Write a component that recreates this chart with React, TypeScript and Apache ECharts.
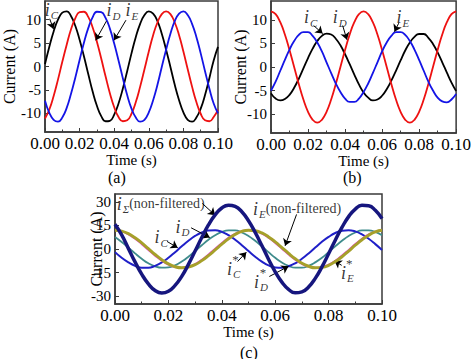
import React, { useEffect, useRef } from "react";
import * as echarts from "echarts";

// ---------- data (every 2.5 ms) ----------
const TIME = [
  0, 0.0025, 0.005, 0.0075, 0.01, 0.0125, 0.015, 0.0175, 0.02, 0.0225,
  0.025, 0.0275, 0.03, 0.0325, 0.035, 0.0375, 0.04, 0.0425, 0.045, 0.0475,
  0.05, 0.0525, 0.055, 0.0575, 0.06, 0.0625, 0.065, 0.0675, 0.07, 0.0725,
  0.075, 0.0775, 0.08, 0.0825, 0.085, 0.0875, 0.09, 0.0925, 0.095, 0.0975, 0.1,
];

// panel (a)
const A_IC = [0.5, 4.2, 7.5, 10.0, 11.5, 11.8, 10.8, 8.7, 5.7, 2.2, -1.6, -5.3, -8.4, -10.6, -11.7, -11.6, -10.3, -7.9, -4.7, -1.0, 2.8, 6.3, 9.1, 11.0, 11.8, 11.3, 9.7, 7.0, 3.6, -0.1, -3.9, -7.2, -9.8, -11.4, -11.8, -10.9, -9.0, -6.1, -2.5, 1.3, 4.2];
const A_ID = [-11.1, -9.2, -6.3, -2.8, 1.0, 4.6, 7.9, 10.3, 11.6, 11.7, 10.6, 8.4, 5.3, 1.7, -2.1, -5.7, -8.7, -10.8, -11.7, -11.5, -10.1, -7.6, -4.3, -0.6, 3.2, 6.7, 9.4, 11.2, 11.8, 11.2, 9.4, 6.7, 3.2, -0.6, -4.3, -7.6, -10.1, -11.5, -11.7, -10.8, -9.2];
const A_IE = [-7.3, -9.9, -11.4, -11.8, -10.9, -8.9, -5.9, -2.4, 1.4, 5.1, 8.2, 10.5, 11.7, 11.6, 10.4, 8.1, 4.9, 1.3, -2.5, -6.1, -9.0, -10.9, -11.8, -11.4, -9.8, -7.2, -3.9, -0.1, 3.6, 7.0, 9.7, 11.3, 11.8, 11.0, 9.1, 6.3, 2.8, -1.0, -4.7, -7.9, -10.0];

// panel (b)
const B_IC = [-5.6, -6.7, -7.1, -6.8, -5.9, -4.4, -2.5, -0.3, 1.9, 3.9, 5.5, 6.6, 7.1, 6.9, 6.0, 4.6, 2.7, 0.6, -1.6, -3.7, -5.4, -6.5, -7.1, -6.9, -6.1, -4.7, -2.9, -0.8, 1.4, 3.5, 5.2, 6.4, 7.0, 7.0, 6.2, 4.9, 3.1, 1.0, -1.2, -3.3, -5.1];
const B_ID = [11.8, 11.2, 9.5, 6.9, 3.6, 0, -3.6, -6.9, -9.5, -11.2, -11.8, -11.2, -9.5, -6.9, -3.6, 0, 3.6, 6.9, 9.5, 11.2, 11.8, 11.2, 9.5, 6.9, 3.6, 0, -3.6, -6.9, -9.5, -11.2, -11.8, -11.2, -9.5, -6.9, -3.6, 0, 3.6, 6.9, 9.5, 11.2, 11.8];
const B_IE = [-5.0, -3.1, -0.8, 1.5, 3.7, 5.5, 6.8, 7.4, 7.4, 6.6, 5.2, 3.3, 1.0, -1.3, -3.5, -5.3, -6.7, -7.4, -7.4, -6.7, -5.3, -3.5, -1.3, 1.0, 3.3, 5.2, 6.6, 7.4, 7.4, 6.8, 5.5, 3.7, 1.5, -0.8, -3.1, -5.0, -6.5, -7.3, -7.5, -6.9, -5.7];

// panel (c)
const C_ISUM = [15.8, 9.0, 0.4, -8.2, -16.0, -22.2, -26.4, -28.0, -26.9, -23.2, -17.4, -9.8, -1.3, 7.3, 15.3, 21.7, 26.1, 27.9, 27.1, 23.7, 18.0, 10.6, 2.2, -6.5, -14.5, -21.1, -25.7, -27.9, -27.3, -24.2, -18.7, -11.4, -3.0, 5.6, 13.7, 20.6, 25.4, 27.8, 27.5, 24.6, 19.3];
const C_IE_RAW = [12.0, 11.1, 9.2, 6.5, 3.0, -0.7, -4.3, -7.5, -10.0, -11.6, -12.0, -11.3, -9.5, -6.8, -3.4, 0.3, 3.9, 7.2, 9.8, 11.5, 12.0, 11.4, 9.7, 7.1, 3.8, 0.1, -3.6, -6.9, -9.6, -11.3, -12.0, -11.5, -9.9, -7.4, -4.1, -0.5, 3.2, 6.6, 9.4, 11.2, 12.0];
const C_IE_REF = [12.0, 11.4, 9.8, 7.1, 3.9, 0.2, -3.5, -6.8, -9.5, -11.3, -12.0, -11.5, -10.0, -7.4, -4.2, -0.6, 3.1, 6.5, 9.3, 11.2, 12.0, 11.6, 10.2, 7.7, 4.5, 0.9, -2.8, -6.2, -9.1, -11.0, -12.0, -11.7, -10.4, -8.0, -4.9, -1.3, 2.4, 5.9, 8.8, 10.9, 11.9];
const C_IC = [-2.0, -5.6, -8.5, -10.7, -11.9, -11.9, -10.7, -8.6, -5.6, -2.0, 1.7, 5.2, 8.3, 10.5, 11.8, 11.9, 10.9, 8.8, 5.9, 2.4, -1.3, -4.9, -8.0, -10.4, -11.7, -11.9, -11.0, -9.1, -6.2, -2.8, 0.9, 4.6, 7.7, 10.2, 11.6, 12.0, 11.2, 9.3, 6.5, 3.1, -0.6];
const C_ID = [7.7, 4.5, 0.9, -2.8, -6.2, -9.1, -11.0, -11.9, -11.7, -10.4, -8.0, -4.9, -1.3, 2.4, 5.9, 8.8, 10.9, 11.9, 11.8, 10.5, 8.3, 5.2, 1.7, -2.0, -5.6, -8.6, -10.7, -11.9, -11.9, -10.7, -8.5, -5.6, -2.0, 1.7, 5.2, 8.3, 10.5, 11.8, 11.9, 10.9, 8.8];

const Y_LABELS_AB = [-10, -5, 0, 5, 10];
const Y_LABELS_C = [-30, -15, 0, 15, 30];

// ---------- styling / layout ----------
const SERIF = "Liberation Serif, Times New Roman, DejaVu Serif, serif";
const FRAME = "#3a3a3a";

const rich = {
  i: { fontFamily: SERIF, fontStyle: "italic", fontWeight: "normal", fontSize: 18, color: "#000", lineHeight: 18 },
  s: { fontFamily: SERIF, fontStyle: "italic", fontWeight: "normal", fontSize: 11, color: "#000", padding: [11, 0, 0, 1], lineHeight: 11 },
  n: { fontFamily: SERIF, fontWeight: "normal", fontSize: 14, color: "#000", lineHeight: 18 },
  st: { fontFamily: SERIF, fontWeight: "normal", fontSize: 13, color: "#000" },
};

// annotation placement in data coordinates
const ANN_A = [
  { x: 0.004, y: 12.0, t: "{i|i}{s|C}" },
  { x: 0.0399, y: 11.9, t: "{i|i}{s|D}" },
  { x: 0.0505, y: 11.9, t: "{i|i}{s|E}" },
];
const ARR_A = [
  [0.0027, 10.2, 0.0049, 8.0],
  [0.0355, 9.7, 0.0293, 5.6],
  [0.0468, 9.9, 0.0399, 5.6],
];
const ANN_B = [
  { x: 0.0217, y: 10.5, t: "{i|i}{s|C}" },
  { x: 0.0374, y: 10.4, t: "{i|i}{s|D}" },
  { x: 0.0715, y: 10.4, t: "{i|i}{s|E}" },
];
const ARR_B = [
  [0.023, 8.8, 0.0279, 7.1],
  [0.0387, 8.8, 0.041, 5.8],
  [0.069, 9.3, 0.0667, 7.5],
];
const ANN_C = [
  { x: 0.0008, y: 28.5, t: "{i|i}{s|Σ}{n|(non-filtered)}", align: "left" },
  { x: 0.0684, y: 25.3, t: "{i|i}{s|E}{n|(non-filtered)}" },
  { x: 0.0255, y: 14.0, t: "{i|i}{s|D}" },
  { x: 0.0175, y: 7.2, t: "{i|i}{s|C}" },
  { x: 0.0446, y: -13.0, t: "{i|i}{s|C}", star: true },
  { x: 0.0549, y: -21.2, t: "{i|i}{s|D}", star: true },
  { x: 0.0872, y: -15.5, t: "{i|i}{s|E}", star: true },
];
const ARR_C = [
  [0.0327, 29.0, 0.0375, 21.5],
  [0.068, 22.0, 0.0637, 2.0],
  [0.0285, 13.5, 0.0355, 7.3],
  [0.0195, 4.8, 0.0235, 0.8],
  [0.0459, -8.0, 0.0492, -2.0],
  [0.0578, -17.5, 0.065, -11.0],
  [0.0849, -10.4, 0.0822, -7.6],
];

const pts = (ys: number[]) => TIME.map((t, i) => [t, ys[i]]);

function line(ys: number[], color: string, width: number, idx: number, z = 2) {
  return {
    type: "line",
    xAxisIndex: idx,
    yAxisIndex: idx,
    data: pts(ys),
    smooth: 0.5,
    symbol: "none",
    showSymbol: false,
    lineStyle: { color, width },
    itemStyle: { color },
    z,
    silent: true,
    emphasis: { disabled: true },
  };
}

function annotations(idx: number, anns: any[], arrows: number[][]) {
  const data: any[] = [];
  anns.forEach((a) => {
    data.push({
      value: [a.x, a.y],
      label: { formatter: a.t, align: a.align || "center" },
    });
    if (a.star) {
      data.push({
        value: [a.x, a.y],
        label: { formatter: "{st|*}", align: "center", offset: [2, -9] },
      });
    }
  });
  return {
    type: "scatter",
    xAxisIndex: idx,
    yAxisIndex: idx,
    symbol: "circle",
    symbolSize: 1,
    itemStyle: { color: "rgba(0,0,0,0)" },
    z: 10,
    silent: true,
    emphasis: { disabled: true },
    label: {
      show: true,
      position: [0, 0],
      align: "center",
      verticalAlign: "middle",
      fontFamily: SERIF,
      fontWeight: "normal",
      rich,
    },
    data,
    markLine: {
      silent: true,
      animation: false,
      symbol: ["none", "arrow"],
      symbolSize: 7,
      lineStyle: { color: "#000", width: 1, type: "solid" },
      label: { show: false },
      emphasis: { disabled: true },
      data: arrows.map((a) => [{ coord: [a[0], a[1]] }, { coord: [a[2], a[3]] }]),
    },
  };
}

function xAxis(idx: number) {
  return {
    type: "value",
    gridIndex: idx,
    min: 0,
    max: 0.1,
    interval: 0.02,
    name: "Time (s)",
    nameLocation: "middle",
    nameGap: 19,
    nameTextStyle: { fontFamily: SERIF, fontWeight: "normal", fontSize: 15, color: "#000" },
    axisLine: { show: true, onZero: false, lineStyle: { color: FRAME, width: 1.5 } },
    axisTick: { show: true, inside: true, length: 4, lineStyle: { color: FRAME, width: 1 } },
    minorTick: { show: true, splitNumber: 2, length: 2.5, lineStyle: { color: FRAME, width: 1 } },
    axisLabel: {
      fontFamily: SERIF,
      fontWeight: "normal",
      fontSize: 17,
      color: "#000",
      margin: 3,
      formatter: (v: number) => v.toFixed(2),
    },
    splitLine: { show: false },
    minorSplitLine: { show: false },
  };
}

function yAxis(idx: number, lim: number, labels: number[], gap: number) {
  return {
    type: "value",
    gridIndex: idx,
    min: -lim,
    max: lim,
    name: "Current (A)",
    nameLocation: "middle",
    nameGap: gap,
    nameRotate: 90,
    nameMoveOverlap: false,
    nameTextStyle: { fontFamily: SERIF, fontWeight: "normal", fontSize: 16, color: "#000" },
    axisLine: { show: true, onZero: false, lineStyle: { color: FRAME, width: 1.5 } },
    axisTick: { show: true, inside: true, length: 4, customValues: labels, lineStyle: { color: FRAME, width: 1 } },
    axisLabel: { fontFamily: SERIF, fontWeight: "normal", fontSize: 15, color: "#000", margin: 4, customValues: labels },
    splitLine: { show: false },
  };
}

const gridStyle = { show: true, borderColor: FRAME, borderWidth: 1.5, backgroundColor: "transparent" };

const option: any = {
  animation: false,
  backgroundColor: "#ffffff",
  textStyle: { fontFamily: SERIF, fontWeight: "normal" },
  grid: [
    { left: 30, top: 1, width: 188, height: 131, ...gridStyle },
    { left: 271, top: 1, width: 191, height: 132, ...gridStyle },
    { left: 115, top: 194, width: 267, height: 110, ...gridStyle },
  ],
  xAxis: [xAxis(0), xAxis(1), xAxis(2)],
  yAxis: [
    yAxis(0, 14, Y_LABELS_AB, 28),
    yAxis(1, 14, Y_LABELS_AB, 23),
    yAxis(2, 35, Y_LABELS_C, 11),
  ],
  series: [
    line(A_IC, "#000000", 1.8, 0),
    line(A_ID, "#ee1111", 1.8, 0),
    line(A_IE, "#1414e6", 1.8, 0),
    annotations(0, ANN_A, ARR_A),

    line(B_IC, "#000000", 1.8, 1),
    line(B_ID, "#ee1111", 1.8, 1),
    line(B_IE, "#1414e6", 1.8, 1),
    annotations(1, ANN_B, ARR_B),

    line(C_ID, "#3f8c8c", 1.8, 2, 2),
    line(C_IC, "#1f1fc8", 2, 2, 3),
    line(C_IE_RAW, "#f03cf0", 1.6, 2, 4),
    line(C_IE_REF, "#a6a02a", 3, 2, 5),
    line(C_ISUM, "#16167e", 3.5, 2, 6),
    annotations(2, ANN_C, ARR_C),
  ],
  graphic: [
    { type: "text", left: 108, top: 169, style: { text: "(a)", fontFamily: SERIF, fontSize: 16, fill: "#000" } },
    { type: "text", left: 343, top: 169, style: { text: "(b)", fontFamily: SERIF, fontSize: 16, fill: "#000" } },
    { type: "text", left: 240, top: 344, style: { text: "(c)", fontFamily: SERIF, fontSize: 16, fill: "#000" } },
  ],
};

export default function App() {
  const ref = useRef<HTMLDivElement>(null);
  useEffect(() => {
    document.body.style.margin = "0";
    const chart = echarts.init(ref.current as HTMLDivElement, null, { renderer: "svg" });
    chart.setOption(option);
    return () => chart.dispose();
  }, []);
  return <div ref={ref} style={{ width: 474, height: 359 }} />;
}
